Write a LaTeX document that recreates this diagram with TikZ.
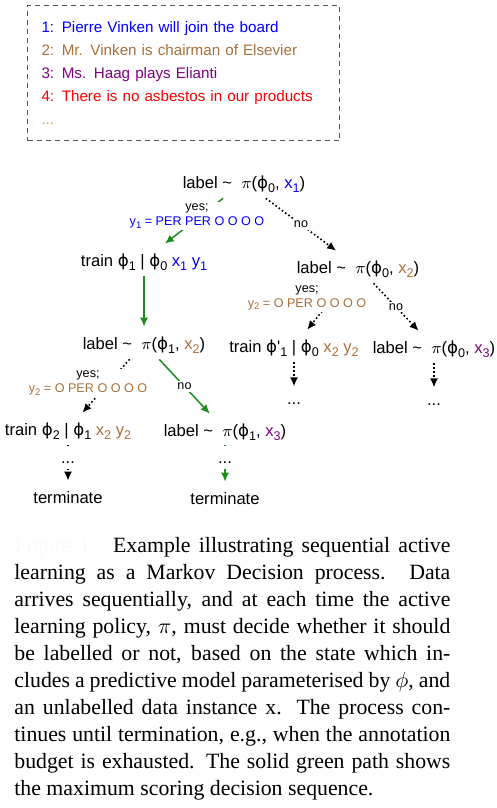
\documentclass[tikz,border=0pt]{standalone}
\usepackage{fontspec}
\setmainfont{Liberation Serif}
\setsansfont{Liberation Sans}
\newfontfamily\phifont{DejaVu Sans}
\usetikzlibrary{positioning}
\usetikzlibrary{arrows.meta}
\definecolor{sentblue}{RGB}{0,0,255}
\definecolor{sentbrown}{RGB}{168,112,58}
\definecolor{sentpurple}{RGB}{128,0,128}
\definecolor{sentred}{RGB}{255,0,0}
\definecolor{sentmore}{RGB}{245,150,60}
\definecolor{boxgray}{RGB}{85,85,85}
\definecolor{bestpath}{RGB}{30,140,30}
\tikzset{every picture/.style={/utils/exec={\sffamily}}}
\newcommand{\lowsub}[2][6.3]{\raisebox{-0.4ex}{\fontsize{#1}{6}\selectfont #2}}
\newcommand{\phsub}[1]{{\phifont ϕ}\lowsub{#1}}
\newcommand{\obs}[3]{\textcolor{#1}{#2\lowsub{#3}}}
\setlength{\parindent}{0pt}

\begin{document}
\begin{tikzpicture}[x=0.5pt, y=-0.5pt, on grid, >={Latex[length=4.5pt,width=4pt]},
  sentbox/.style={draw=boxgray, dash pattern=on 2.5pt off 2pt, line width=0.5pt,
    align=left, text width=142pt, inner xsep=7pt, inner ysep=8pt,
    font=\fontsize{7.6}{11.5}\selectfont},
  choice/.style={font=\fontsize{8.3}{10}\selectfont, text height=1.5ex, text depth=.25ex},
  ellip/.style={choice, inner ysep=1pt},
  yesno/.style={font=\fontsize{6.3}{7.5}\selectfont, fill=white, align=center, inner sep=1pt},
  bestedge/.style={->, draw=bestpath, line width=0.75pt},
  otheredge/.style={->, line width=0.8pt, dash pattern=on 0.8pt off 1.2pt},
  capt/.style={font=\rmfamily\fontsize{10.9}{13.5}\selectfont, text width=218pt,
    align=justify, inner sep=0pt}]

  \useasboundingbox (0,0) rectangle (497,808);

  % the sentences
  \node [sentbox, anchor=north west] (sents) at (27,5) {
    \textcolor{sentblue}{1: Pierre Vinken will join the board}\\
    \textcolor{sentbrown}{2: Mr. Vinken is chairman of Elsevier}\\
    \textcolor{sentpurple}{3: Ms. Haag plays Elianti}\\
    \textcolor{sentred}{4: There is no asbestos in our products}\\
    \textcolor{sentmore}{...}};

  % the decisions
  \node [choice] (root) at (244,182) {label \textasciitilde\ \ $\pi$(\phsub{0}, \obs{sentblue}{x}{1})};
  \node [choice, below left=39pt and 50pt of root] (train1) {train \phsub{1} | \phsub{0} \obs{sentblue}{x}{1} \obs{sentblue}{y}{1}};
  \node [choice, below right=42.5pt and 57pt of root] (skip1) {label \textasciitilde\ \ $\pi$(\phsub{0}, \obs{sentbrown}{x}{2})};
  \node [choice, below=41.5pt of train1] (ask2) {label \textasciitilde\ \ $\pi$(\phsub{1}, \obs{sentbrown}{x}{2})};
  \node [choice, below left=39.5pt and 32pt of skip1] (train2b) {train {\phifont ϕ}\textquotesingle\lowsub{1} | \phsub{0} \obs{sentbrown}{x}{2} \obs{sentbrown}{y}{2}};
  \node [choice, below right=40pt and 38pt of skip1] (skip2b) {label \textasciitilde\ \ $\pi$(\phsub{0}, \obs{sentpurple}{x}{3})};
  \node [choice, below left=43pt and 38pt of ask2] (train2) {train \phsub{2} | \phsub{1} \obs{sentbrown}{x}{2} \obs{sentbrown}{y}{2}};
  \node [choice, below right=43.5pt and 40.5pt of ask2] (skip2) {label \textasciitilde\ \ $\pi$(\phsub{1}, \obs{sentpurple}{x}{3})};

  \node [ellip, below=26pt of train2b] (dots2b) {...};
  \node [ellip, below=26pt of skip2b] (dots3b) {...};
  \node [ellip, below=14pt of train2] (dots2) {...};
  \node [ellip, below=13.5pt of skip2] (dots3) {...};
  \node [choice, below=20pt of dots2] (stop2) {terminate};
  \node [choice, below=20.5pt of dots3] (stop3) {terminate};

  \draw [bestedge] (root) -- node [yesno, xshift=1.5pt, yshift=2.5pt] (yes1)
    {yes;\\\textcolor{sentblue}{y\lowsub[4.8]{1} = PER PER O O O O}} (train1);
  \draw [otheredge] (root) -- node [yesno] (no1) {no} (skip1);
  \draw [bestedge] (train1) -- (ask2);
  \draw [otheredge] (skip1) -- node [yesno, xshift=-9.5pt, yshift=4.5pt] (yes2b)
    {yes;\\\textcolor{sentbrown}{y\lowsub[4.8]{2} = O PER O O O O}} (train2b);
  \draw [otheredge] (skip1) -- node [yesno] (no2b) {no} (skip2b);
  \draw [otheredge] (ask2) -- node [yesno, xshift=-9pt, yshift=1.5pt] (yes2)
    {yes;\\\textcolor{sentbrown}{y\lowsub[4.8]{2} = O PER O O O O}} (train2);
  \draw [bestedge] (ask2) -- node [yesno] (no2) {no} (skip2);

  \draw [otheredge] (train2b) -- (dots2b);
  \draw [otheredge] (skip2b) -- (dots3b);
  \draw [otheredge] (train2) -- (dots2) -- (stop2);
  \draw [bestedge] (skip2) -- (dots3) -- (stop3);

  % the caption
  \node [capt, anchor=north west] (caption) at (14,537) {%
    \textcolor{black!2}{Figure 1:}\ \ Example illustrating sequential active\linebreak
    learning as a Markov Decision process.  Data\linebreak
    arrives sequentially, and at each time the active\linebreak
    learning policy, $\pi$, must decide whether it should\linebreak
    be labelled or not, based on the state which in-\linebreak
    cludes a predictive model parameterised by $\phi$, and\linebreak
    an unlabelled data instance x.  The process con-\linebreak
    tinues until termination, e.g., when the annotation\linebreak
    budget is exhausted.  The solid green path shows\linebreak
    the maximum scoring decision sequence.};
\end{tikzpicture}
\end{document}
